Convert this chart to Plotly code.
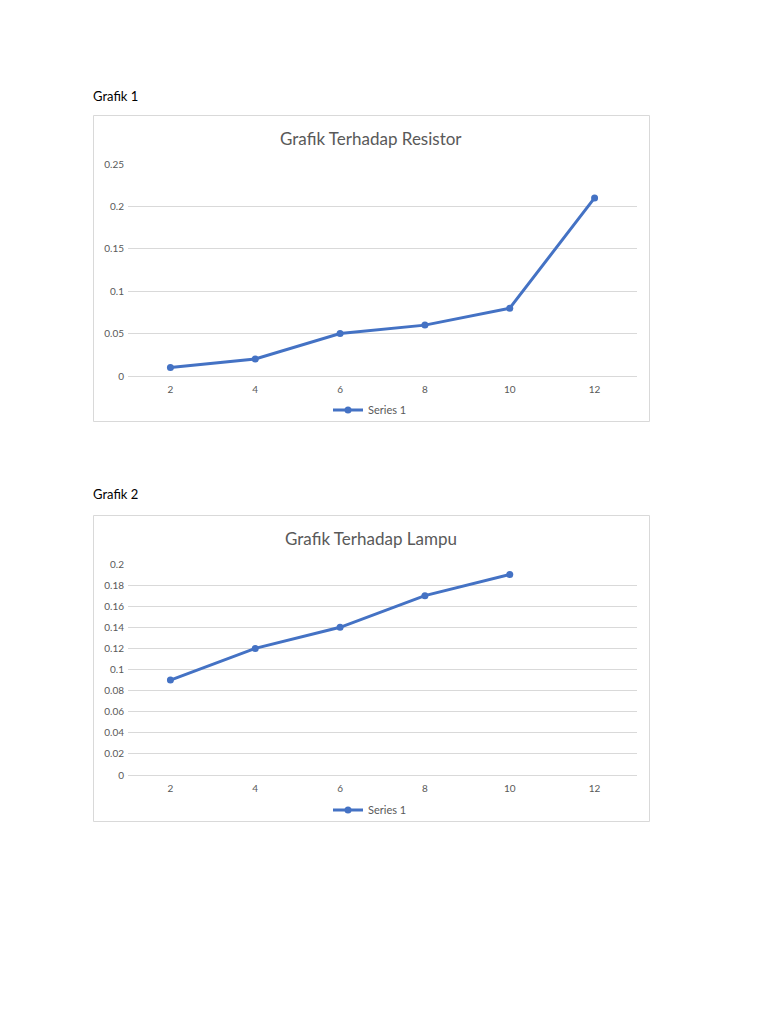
import plotly.graph_objects as go

# Data
x_vals = [2, 4, 6, 8, 10, 12]
resistor = [0.01, 0.02, 0.05, 0.06, 0.08, 0.21]
lampu = [0.09, 0.12, 0.14, 0.17, 0.19, None]
title1 = "Grafik Terhadap Resistor"
title2 = "Grafik Terhadap Lampu"
label1 = "Grafik 1"
label2 = "Grafik 2"
series_name = "Series 1"

OFF = 8  # default body margin of the page
W, H = 768 - OFF, 1024 - OFF
FONT = "Lato, Carlito, sans-serif"
BLUE = "#4472C4"
GRID = "#d9d9d9"
TXT = "#595959"

def px(x):
    return (x - OFF) / W

def py(y):
    return 1 - (y - OFF) / H

fig = go.Figure()
fig.add_trace(go.Scatter(x=x_vals, y=resistor, mode="lines+markers", name=series_name,
                         line=dict(color=BLUE, width=3), marker=dict(size=7, color=BLUE),
                         xaxis="x", yaxis="y", legend="legend", showlegend=True))
fig.add_trace(go.Scatter(x=x_vals, y=lampu, mode="lines+markers", name=series_name,
                         line=dict(color=BLUE, width=3), marker=dict(size=7, color=BLUE),
                         xaxis="x2", yaxis="y2", legend="legend2", showlegend=True))

xcommon = dict(range=[1, 13], tickvals=x_vals, showgrid=False, showline=True, linecolor=GRID,
               linewidth=1, zeroline=False, ticks="", tickfont=dict(size=10, color=TXT, family=FONT),
               ticklabelstandoff=4, fixedrange=True, automargin=False)
ycommon = dict(showgrid=True, gridcolor=GRID, gridwidth=1, zeroline=False, showline=False, ticks="",
               tickfont=dict(size=10, color=TXT, family=FONT), ticklabelstandoff=3, fixedrange=True,
               automargin=False)

legend_common = dict(orientation="h", xanchor="center", yanchor="middle", visible=True,
                     font=dict(size=11, color=TXT, family=FONT), bgcolor="rgba(0,0,0,0)")

fig.update_layout(
    width=W, height=H, margin=dict(l=0, r=0, t=0, b=0, pad=0, autoexpand=False),
    autosize=False, showlegend=True,
    paper_bgcolor="white", plot_bgcolor="white",
    font=dict(family=FONT),
    xaxis=dict(domain=[px(128), px(637)], anchor="y", **xcommon),
    yaxis=dict(domain=[py(376), py(164)], anchor="x", range=[0, 0.25], dtick=0.05, tick0=0, **ycommon),
    xaxis2=dict(domain=[px(128), px(637)], anchor="y2", **xcommon),
    yaxis2=dict(domain=[py(775), py(564)], anchor="x2", range=[0, 0.2], dtick=0.02, tick0=0, **ycommon),
    legend=dict(x=px(370), y=py(410), **legend_common),
    legend2=dict(x=px(370), y=py(810), **legend_common),
    shapes=[
        dict(type="rect", xref="paper", yref="paper", x0=px(93.5), x1=px(649.5), y0=py(421.5), y1=py(115.5),
             line=dict(color=GRID, width=1), layer="below"),
        dict(type="rect", xref="paper", yref="paper", x0=px(93.5), x1=px(649.5), y0=py(821.5), y1=py(515.5),
             line=dict(color=GRID, width=1), layer="below"),
    ],
    annotations=[
        dict(text=label1, xref="paper", yref="paper", x=px(91), y=py(96), xanchor="left", yanchor="middle",
             showarrow=False, font=dict(size=13, color="black", family=FONT)),
        dict(text=label2, xref="paper", yref="paper", x=px(91), y=py(494), xanchor="left", yanchor="middle",
             showarrow=False, font=dict(size=13, color="black", family=FONT)),
        dict(text=title1, xref="paper", yref="paper", x=px(371), y=py(138), xanchor="center", yanchor="middle",
             showarrow=False, font=dict(size=17, color=TXT, family=FONT)),
        dict(text=title2, xref="paper", yref="paper", x=px(371), y=py(538), xanchor="center", yanchor="middle",
             showarrow=False, font=dict(size=17, color=TXT, family=FONT)),
    ],
)

fig.write_html("out.html")
